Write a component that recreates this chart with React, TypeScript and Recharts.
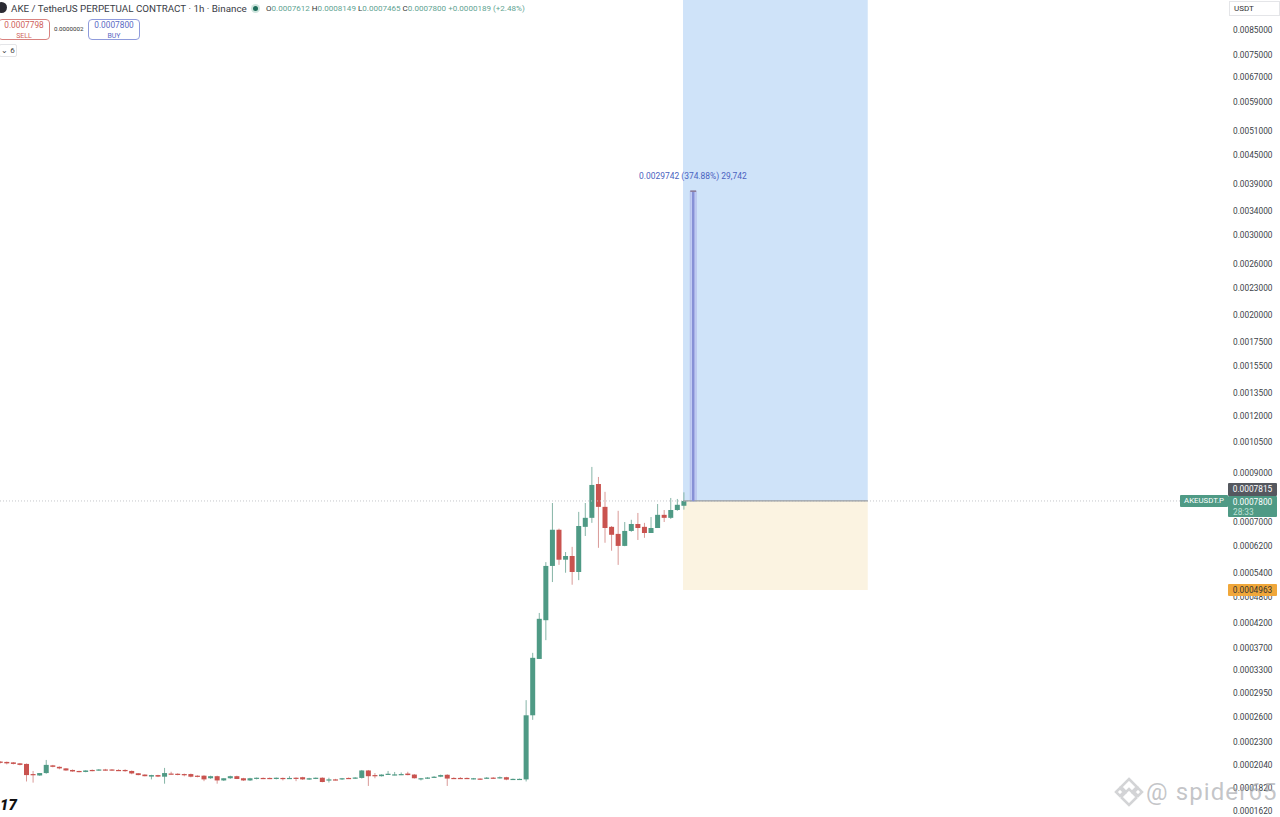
import { Bar, ComposedChart, ReferenceArea, ReferenceLine, XAxis, YAxis } from 'recharts';

const opens = [
  0.000208, 0.0002076, 0.0002071, 0.0002061, 0.0002055, 0.0001952, 0.0001938, 0.0001962, 0.000204, 0.0002025,
  0.0002009, 0.0001993, 0.0001983, 0.0001973, 0.0001993, 0.0001988, 0.0001998, 0.0001998, 0.0001993, 0.0001993,
  0.0001983, 0.000196, 0.0001947, 0.0001927, 0.0001942, 0.0001926, 0.0001957, 0.0001955, 0.0001952, 0.0001952,
  0.0001936, 0.0001936, 0.0001911, 0.0001931, 0.000189, 0.0001911, 0.0001931, 0.0001911, 0.000189, 0.0001906,
  0.0001914, 0.0001914, 0.0001904, 0.0001914, 0.0001908, 0.0001916, 0.0001921, 0.0001898, 0.0001906, 0.0001916,
  0.000189, 0.00019, 0.00019, 0.0001914, 0.0001911, 0.0001914, 0.0001988, 0.0001942, 0.0001931, 0.0001947,
  0.0001942, 0.0001944, 0.0001957, 0.0001947, 0.0001904, 0.0001911, 0.0001921, 0.0001926, 0.0001945, 0.0001914,
  0.0001914, 0.0001914, 0.0001904, 0.0001908, 0.0001911, 0.0001917, 0.0001915, 0.0001921, 0.00019, 0.00019,
  0.00019, 0.000263, 0.00035, 0.000426, 0.000561, 0.000674, 0.000579, 0.00059, 0.000544, 0.000684,
  0.000716, 0.00085, 0.000757, 0.000684, 0.00066, 0.000621, 0.00067, 0.000694, 0.000684, 0.000663,
  0.00068, 0.000727, 0.000716, 0.000745, 0.0007612,
];
const highs = [
  0.0002085, 0.000208, 0.0002075, 0.0002065, 0.000206, 0.0001983, 0.0001962, 0.0002097, 0.0002045, 0.000203,
  0.0002012, 0.0001998, 0.0001985, 0.000199, 0.0001998, 0.0002002, 0.0002004, 0.0002002, 0.0002, 0.0002,
  0.0001988, 0.0001962, 0.000195, 0.0001945, 0.0001945, 0.0002014, 0.0001975, 0.000196, 0.0001957, 0.0001957,
  0.000194, 0.000194, 0.0001936, 0.0001936, 0.0001911, 0.0001936, 0.0001936, 0.0001915, 0.0001915, 0.0001918,
  0.0001918, 0.0001918, 0.0001918, 0.0001918, 0.0001931, 0.000192, 0.0001925, 0.0001915, 0.0001918, 0.000192,
  0.0001916, 0.0001905, 0.0001914, 0.0001918, 0.0001922, 0.0001993, 0.0001993, 0.0001962, 0.0001949, 0.0001983,
  0.0001973, 0.0001968, 0.0001975, 0.0001952, 0.0001914, 0.0001922, 0.0001932, 0.0001947, 0.000195, 0.000192,
  0.0001922, 0.0001918, 0.0001914, 0.000191, 0.0001922, 0.0001922, 0.0001928, 0.0001925, 0.0001908, 0.0001908,
  0.000284, 0.000361, 0.000442, 0.000572, 0.000772, 0.000678, 0.000602, 0.000618, 0.000738, 0.000772,
  0.000927, 0.000881, 0.000817, 0.000687, 0.000742, 0.000701, 0.000709, 0.000734, 0.000698, 0.000719,
  0.000768, 0.000745, 0.000792, 0.000788, 0.0008149,
];
const lows = [
  0.000206, 0.000205, 0.000205, 0.000204, 0.000188, 0.0001869, 0.0001935, 0.0001955, 0.000202, 0.0002,
  0.0001985, 0.0001975, 0.000197, 0.000197, 0.000198, 0.0001985, 0.0001985, 0.0001985, 0.0001983, 0.0001975,
  0.000195, 0.000194, 0.000193, 0.00019, 0.0001922, 0.0001859, 0.000195, 0.000194, 0.000193, 0.000192,
  0.000192, 0.0001883, 0.0001905, 0.0001859, 0.0001885, 0.0001905, 0.0001903, 0.0001885, 0.0001885, 0.00019,
  0.0001903, 0.0001903, 0.00019, 0.000189, 0.0001905, 0.0001883, 0.0001895, 0.0001895, 0.0001903, 0.0001872,
  0.000187, 0.000189, 0.0001895, 0.0001905, 0.0001905, 0.0001908, 0.0001838, 0.0001911, 0.0001928, 0.0001944,
  0.000194, 0.0001942, 0.000194, 0.0001908, 0.000189, 0.0001905, 0.0001915, 0.0001922, 0.0001838, 0.0001905,
  0.0001905, 0.0001905, 0.00019, 0.0001895, 0.0001905, 0.0001905, 0.0001908, 0.0001892, 0.0001895, 0.0001895,
  0.000188, 0.000257, 0.00035, 0.000385, 0.000517, 0.000564, 0.000542, 0.00051, 0.000522, 0.000653,
  0.000698, 0.000615, 0.000631, 0.000606, 0.000564, 0.00062, 0.000667, 0.00064, 0.000647, 0.000663,
  0.00068, 0.000701, 0.000712, 0.000742, 0.0007465,
];
const closes = [
  0.0002066, 0.0002061, 0.0002055, 0.0002045, 0.0001942, 0.0001942, 0.0001962, 0.0002045, 0.0002025, 0.0002009,
  0.0001988, 0.0001978, 0.0001973, 0.0001988, 0.0001983, 0.0001998, 0.0001993, 0.0001993, 0.0001988, 0.0001983,
  0.0001958, 0.0001942, 0.0001931, 0.0001942, 0.0001927, 0.0001962, 0.0001952, 0.0001945, 0.0001942, 0.0001926,
  0.0001931, 0.00019, 0.0001931, 0.000189, 0.0001911, 0.0001931, 0.0001904, 0.000189, 0.0001911, 0.0001916,
  0.0001908, 0.0001908, 0.0001916, 0.0001908, 0.0001914, 0.000191, 0.00019, 0.0001911, 0.0001916, 0.0001875,
  0.00019, 0.0001895, 0.0001911, 0.0001908, 0.0001918, 0.0001988, 0.0001931, 0.0001937, 0.0001947, 0.0001955,
  0.0001949, 0.0001952, 0.0001942, 0.0001911, 0.0001911, 0.0001918, 0.0001926, 0.0001942, 0.0001908, 0.0001908,
  0.0001909, 0.0001909, 0.0001911, 0.0001902, 0.0001917, 0.0001911, 0.0001921, 0.0001898, 0.0001905, 0.0001905,
  0.000263, 0.000352, 0.000429, 0.000561, 0.000674, 0.000579, 0.00059, 0.000544, 0.000687, 0.000716,
  0.000846, 0.000757, 0.00068, 0.000657, 0.000621, 0.00067, 0.000694, 0.00068, 0.000663, 0.00068,
  0.000727, 0.000716, 0.000745, 0.000765, 0.00078,
];

const priceTicks = [
  0.0085, 0.0075, 0.0067, 0.0059, 0.0051, 0.0045, 0.0039, 0.0034, 0.003, 0.0026, 0.0023, 0.002, 0.00175, 0.00155,
  0.00135, 0.0012, 0.00105, 0.0009, 0.0007, 0.00062, 0.00054, 0.00048, 0.00042, 0.00037, 0.00033, 0.000295, 0.00026,
  0.00023, 0.000204, 0.000182, 0.000162,
];

const priceTop = 0.0099;
const priceBottom = 0.000157;
const lastPrice = 0.00078;
const stopPrice = 0.0004963;
const targetPrice = 0.0037542;

// bar index range of the long position tool and its measure bar
const zoneStart = 103.9;
const zoneEnd = 132;
const measureStart = 105;
const measureMid = 105.45;
const measureEnd = 105.9;

const UP = '#4f9a85';
const DOWN = '#c9534f';
const UP_WICK = '#86b5a7';
const DOWN_WICK = '#d99a97';

const candles = opens.map((open, index) => ({
  index,
  open,
  close: closes[index],
  wick: [lows[index], highs[index]],
  body: [Math.min(open, closes[index]), Math.max(open, closes[index])],
}));

function CandlePart({ x, y, width, height, payload, up, down }: any) {
  const color = payload.close >= payload.open ? up : down;
  return <rect x={x} y={y} width={width} height={Math.max(height, 1.2)} fill={color} />;
}

const font = 'Roboto, "Open Sans", sans-serif';

function Box({ style, children }: any) {
  return (
    <div style={{ position: 'absolute', whiteSpace: 'nowrap', fontFamily: font, ...style }}>{children}</div>
  );
}

function PriceTag({ top, height, background, color, children }: any) {
  return (
    <Box
      style={{
        left: 1228,
        top,
        width: 49,
        height,
        background,
        color,
        fontSize: 8.3,
        lineHeight: '13px',
        textAlign: 'center',
        borderRadius: 1,
      }}
    >
      {children}
    </Box>
  );
}

export default function App() {
  return (
    <div style={{ position: 'absolute', left: 0, top: 0, width: 1280, height: 817, overflow: 'hidden', background: '#fff' }}>
      <ComposedChart width={1280} height={817} data={candles} margin={{ top: 0, right: 0, bottom: 0, left: 0 }}>
        <XAxis xAxisId="wick" dataKey="index" type="number" domain={[0.046, 186.8]} hide />
        <XAxis xAxisId="body" dataKey="index" type="number" domain={[0.046, 186.8]} hide />
        <YAxis
          orientation="right"
          width={52}
          scale="log"
          type="number"
          domain={[priceBottom, priceTop]}
          allowDataOverflow
          ticks={priceTicks}
          interval={0}
          axisLine={false}
          tickLine={false}
          tickSize={0}
          tickMargin={5}
          tick={{ fill: '#3c3f48', fontSize: 8.3, fontFamily: font }}
          tickFormatter={(value: number) => value.toFixed(7)}
        />
        <ReferenceLine xAxisId="body" y={lastPrice} stroke="#c4c7ca" strokeDasharray="1 2" />
        <ReferenceArea xAxisId="body" x1={zoneStart} x2={zoneEnd} y1={lastPrice} y2={priceTop} fill="#cfe3f9" fillOpacity={1} />
        <ReferenceArea xAxisId="body" x1={zoneStart} x2={zoneEnd} y1={stopPrice} y2={lastPrice} fill="#fbf3e1" fillOpacity={1} />
        <ReferenceLine
          xAxisId="body"
          segment={[
            { x: zoneStart, y: lastPrice },
            { x: zoneEnd, y: lastPrice },
          ]}
          stroke="#9a9ea2"
          strokeWidth={1.2}
        />
        <ReferenceArea
          xAxisId="body"
          x1={measureStart}
          x2={measureEnd}
          y1={lastPrice}
          y2={targetPrice}
          fill="#c3cff4"
          fillOpacity={1}
          stroke="#b4bfec"
        />
        <ReferenceLine
          xAxisId="body"
          segment={[
            { x: measureMid, y: lastPrice },
            { x: measureMid, y: targetPrice },
          ]}
          stroke="#8791d6"
          strokeWidth={2.5}
        />
        <ReferenceLine
          xAxisId="body"
          segment={[
            { x: measureStart, y: targetPrice },
            { x: measureEnd, y: targetPrice },
          ]}
          stroke="#8b7a96"
          strokeWidth={1.5}
        />
        <Bar
          xAxisId="wick"
          dataKey="wick"
          barSize={1}
          isAnimationActive={false}
          shape={(props: any) => <CandlePart {...props} up={UP_WICK} down={DOWN_WICK} />}
        />
        <Bar
          xAxisId="body"
          dataKey="body"
          barSize={5}
          isAnimationActive={false}
          shape={(props: any) => <CandlePart {...props} up={UP} down={DOWN} />}
        />
      </ComposedChart>

      <Box style={{ left: -4, top: 2, width: 11, height: 11, borderRadius: 6, background: '#2b2b33' }} />
      <Box style={{ left: 11, top: 2, fontSize: 9.8, lineHeight: '14px', color: '#3a3d46' }}>
        AKE / TetherUS PERPETUAL CONTRACT · 1h · Binance
      </Box>
      <Box style={{ left: 253, top: 6, width: 5, height: 5, borderRadius: 3, background: '#1f6f5c', boxShadow: '0 0 0 2px #cfe5de' }} />
      <Box style={{ left: 266, top: 3, fontSize: 8.05, lineHeight: '12px', color: '#5fa492' }}>
        <span style={{ color: '#333' }}>O</span>0.0007612 <span style={{ color: '#333' }}>H</span>0.0008149{' '}
        <span style={{ color: '#333' }}>L</span>0.0007465 <span style={{ color: '#333' }}>C</span>0.0007800 +0.0000189 (+2.48%)
      </Box>
      <Box
        style={{
          left: -2,
          top: 19,
          width: 50,
          height: 19,
          border: '1px solid #d9827f',
          borderRadius: 4,
          color: '#cf5f5b',
          textAlign: 'center',
          fontSize: 8.3,
          lineHeight: '10px',
        }}
      >
        0.0007798
        <br />
        <span style={{ fontSize: 7 }}>SELL</span>
      </Box>
      <Box style={{ left: 54, top: 25, fontSize: 6.2, lineHeight: '9px', color: '#333' }}>0.0000002</Box>
      <Box
        style={{
          left: 88,
          top: 19,
          width: 50,
          height: 19,
          border: '1px solid #8f9bdc',
          borderRadius: 4,
          color: '#5b69c4',
          textAlign: 'center',
          fontSize: 8.3,
          lineHeight: '10px',
        }}
      >
        0.0007800
        <br />
        <span style={{ fontSize: 7 }}>BUY</span>
      </Box>
      <Box
        style={{
          left: -1,
          top: 44,
          width: 16,
          height: 11,
          border: '1px solid #e4e5e8',
          borderRadius: 2,
          color: '#444',
          fontSize: 8,
          lineHeight: '11px',
          textAlign: 'center',
        }}
      >
        ⌄ 6
      </Box>
      <Box style={{ left: 639, top: 170, fontSize: 8.45, lineHeight: '12px', color: '#4a62c0' }}>
        0.0029742 (374.88%) 29,742
      </Box>

      <Box
        style={{
          left: 1229,
          top: 1,
          width: 51,
          height: 15,
          border: '1px solid #e4e5e8',
          boxSizing: 'border-box',
          fontSize: 8,
          lineHeight: '14px',
          paddingLeft: 4,
          color: '#333',
          background: '#fff',
        }}
      >
        USDT
      </Box>
      <Box
        style={{
          left: 1180,
          top: 495,
          width: 48,
          height: 12,
          background: '#4f9a85',
          color: '#fff',
          fontSize: 7.8,
          lineHeight: '12px',
          textAlign: 'center',
          borderRadius: 1,
        }}
      >
        AKEUSDT.P
      </Box>
      <PriceTag top={483} height={13} background="#55585f" color="#fff">0.0007815</PriceTag>
      <PriceTag top={496} height={21} background="#4f9a85" color="#fff">
        <div style={{ lineHeight: '10px', paddingTop: 1 }}>0.0007800</div>
        <div style={{ lineHeight: '10px', color: '#bfe0d6', textAlign: 'left', paddingLeft: 5 }}>28:33</div>
      </PriceTag>
      <PriceTag top={584} height={12} background="#f0a73a" color="#333">0.0004963</PriceTag>

      <Box style={{ left: 0, top: 796, fontSize: 15, fontWeight: 900, fontStyle: 'italic', color: '#111', lineHeight: '18px' }}>
        17
      </Box>
      <svg width={30} height={30} style={{ position: 'absolute', left: 1114, top: 777 }}>
        <g fill="none" stroke="#c9cacd" strokeWidth={2.5} opacity={0.8}>
          <path d="M15 2 L23 10 L18 15 L15 12 L12 15 L7 10 Z" />
          <path d="M2 15 L6 11 L10 15 L6 19 Z" />
          <path d="M20 15 L24 11 L28 15 L24 19 Z" />
          <path d="M7 20 L12 15 M23 20 L18 15 M7 20 L15 28 L23 20" />
        </g>
      </svg>
      <Box style={{ left: 1146, top: 775, fontSize: 24, lineHeight: '34px', color: 'rgba(170,172,176,0.7)', letterSpacing: 1.1 }}>
        @ spider65
      </Box>
    </div>
  );
}
